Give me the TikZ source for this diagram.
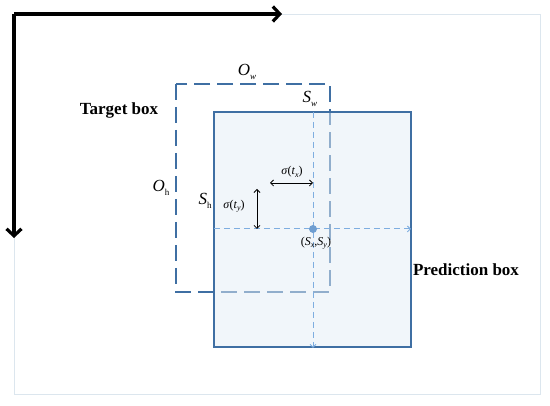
\documentclass[tikz,border=0pt]{standalone}
\usepackage{fontspec}
\setmainfont{Liberation Serif}
\usetikzlibrary{arrows.meta}
\definecolor{boxblue}{HTML}{3F6FA3}
\definecolor{lineblue}{HTML}{7FAEE0}
\definecolor{boxfill}{HTML}{E4EDF6}
\definecolor{framegray}{HTML}{DCE6EE}
\newcommand{\lsub}[2]{\textit{#1}\raisebox{-0.25em}{\fontsize{9}{9}\selectfont #2}}
\begin{document}
\begin{tikzpicture}[x=1pt,y=-1pt,
  axis/.style={line width=3.2pt,-{Straight Barb[length=7pt,width=15pt,line width=3.2pt]}},
  tgtbox/.style={draw=boxblue,line width=2pt,dash pattern=on 16pt off 7pt},
  predfill/.style={fill=boxfill,fill opacity=0.5},
  predbox/.style={draw=boxblue,line width=2.9pt},
  guide/.style={draw=lineblue,line width=1pt,dash pattern=on 6pt off 4pt},
  dimarr/.style={line width=0.8pt,{Straight Barb[length=3pt,width=6pt]}-{Straight Barb[length=3pt,width=6pt]}},
  lbl/.style={font=\bfseries\fontsize{17}{19}\selectfont},
  mlbl/.style={font=\fontsize{17}{19}\selectfont},
  slbl/.style={font=\fontsize{12}{14}\selectfont}]
\useasboundingbox (0,0) rectangle (550,406);
\draw[framegray,line width=0.8pt] (14,14) rectangle (540,394);
% axes
\coordinate (o) at (14,14);
\coordinate (xe) at (282,14);
\coordinate (ye) at (14,238);
\draw[axis] (o) -- (xe);
\draw[axis] (o) -- (ye);
% target box
\draw[tgtbox] (176,84) rectangle (330,292);
% prediction box
\fill[predfill] (214,112) rectangle (411,347);
\draw[predbox] (214,112) rectangle (411,347);
% guides
\coordinate (c) at (313,229);
\coordinate (vt) at (313,112);
\coordinate (vb) at (313,348);
\coordinate (hl) at (214,229);
\coordinate (hr) at (411,229);
\draw[guide,-{Straight Barb[length=3pt,width=6pt]}] (vt) -- (vb);
\draw[guide,-{Straight Barb[length=3pt,width=6pt]}] (hl) -- (hr);
\fill[lineblue!75!boxblue] (c) circle (4pt);
% dimension arrows
\coordinate (sxl) at (270,183);
\coordinate (sxr) at (313,183);
\draw[dimarr] (sxl) -- (sxr);
\coordinate (syt) at (257,189);
\coordinate (syb) at (257,229);
\draw[dimarr] (syt) -- (syb);
% labels
\node[lbl] (tb) at (119,110) {Target box};
\node[lbl] (pb) at (466,270) {Prediction box};
\node[mlbl] (ow) at (247,72) {\lsub{O}{\textit{w}}};
\node[mlbl] (sw) at (310,99) {\lsub{S}{\textit{w}}};
\node[mlbl] (oh) at (161,188) {\lsub{O}{h}};
\node[mlbl] (sh) at (205,201) {\lsub{S}{h}};
\node[slbl] (stx) at (292,172) {\textit{σ}(\textit{t}\raisebox{-0.2em}{\fontsize{8}{8}\selectfont\textit{x}})};
\node[slbl] (sty) at (234,206) {\textit{σ}(\textit{t}\raisebox{-0.2em}{\fontsize{8}{8}\selectfont\textit{y}})};
\node[slbl] (sxy) at (316,243) {(\textit{S}\raisebox{-0.2em}{\fontsize{8}{8}\selectfont\textit{x}},\textit{S}\raisebox{-0.2em}{\fontsize{8}{8}\selectfont\textit{y}})};
\end{tikzpicture}
\end{document}
